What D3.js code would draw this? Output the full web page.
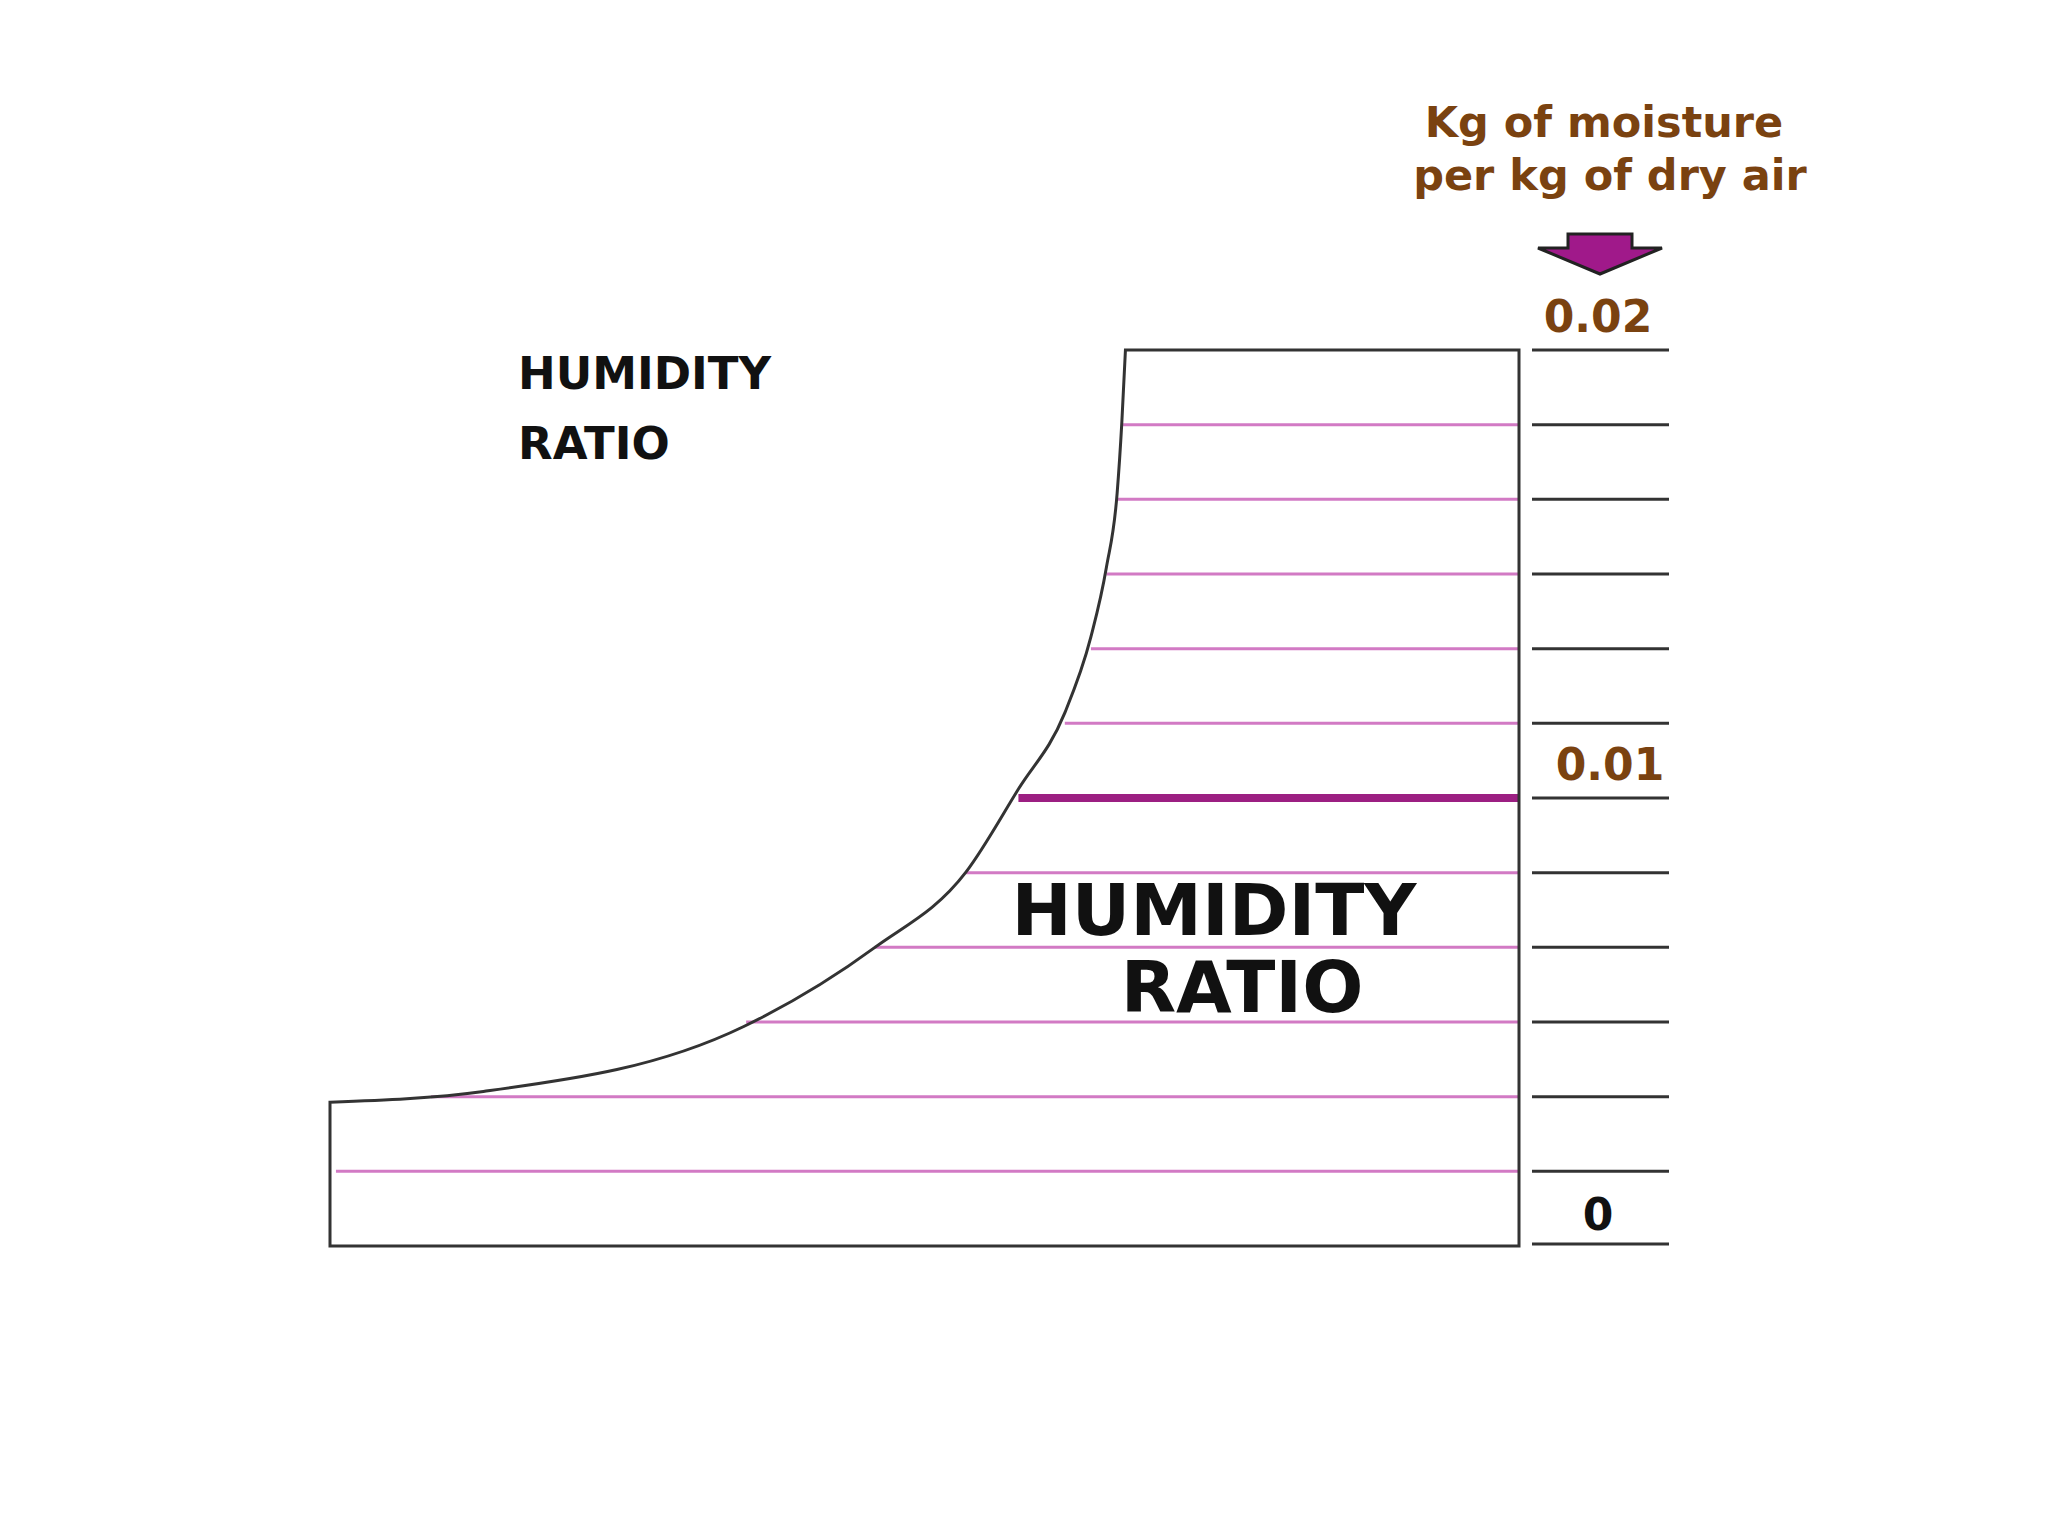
<!DOCTYPE html>
<html><head><meta charset="utf-8">
<script src="https://cdn.jsdelivr.net/npm/d3@7"></script>
<style>body{margin:0;background:#fff}</style></head>
<body><svg id="c" width="2048" height="1536"></svg>
<script>
// humidity levels (kg/kg) and where each level meets the saturation curve (0-100 along dry-bulb)
const levels = [0, 0.001667, 0.003333, 0.005, 0.006667, 0.008333, 0.01, 0.011667, 0.013333, 0.015, 0.016667, 0.018333, 0.02];
const lineStart = [0, 0.5, 8.5, 35, 45.8, 53.5, 57.9, 61.8, 64, 65.3, 66.2, 66.7, 66.9];
const curveX = [0, 12.9, 34.8, 45.8, 53.5, 57.9, 61.8, 64, 65.3, 66.2, 66.6, 66.9];
const curveW = [0.00321, 0.00345, 0.0049, 0.00666, 0.00835, 0.0102, 0.0119, 0.0136, 0.01515, 0.0168, 0.0184, 0.02];
const tickLabels = [{v: 0.02, t: "0.02"}, {v: 0.01, t: "0.01"}, {v: 0, t: "0"}];

const svg = d3.select("#c");
const x = d3.scaleLinear().domain([0, 100]).range([330, 1519]);
const y = d3.scaleLinear().domain([0, 0.02]).range([1246, 350]);
const brown = "#7a4210";
const f = "DejaVu Sans, Verdana, sans-serif";

// pink humidity lines
levels.forEach((v, i) => {
  if (i === 0 || i === levels.length - 1) return;
  const main = v === 0.01;
  svg.append("line")
    .attr("x1", x(lineStart[i])).attr("x2", x(100))
    .attr("y1", y(v)).attr("y2", y(v))
    .attr("stroke", main ? "#9c1f82" : "#d27ac4")
    .attr("stroke-width", main ? 8 : 3);
});

// outline: saturation curve + box
const pts = curveX.map((c, i) => [x(c), y(curveW[i])]);
const curve = d3.line().curve(d3.curveMonotoneX)(pts);
svg.append("path")
  .attr("d", `M${x(0)},${y(0)}L` + curve.slice(1) +
    `L${x(100)},${y(0.02)}L${x(100)},${y(0)}Z`)
  .attr("fill", "none").attr("stroke", "#333").attr("stroke-width", 3);

// right scale ticks
svg.selectAll(".tk").data(levels).enter().append("line")
  .attr("x1", 1532).attr("x2", 1669)
  .attr("y1", d => y(d) + (d === 0 ? -2 : 0)).attr("y2", d => y(d) + (d === 0 ? -2 : 0))
  .attr("stroke", "#333").attr("stroke-width", 3);

svg.selectAll(".tl").data(tickLabels).enter().append("text")
  .attr("x", d => d.v === 0.01 ? 1610 : 1598)
  .attr("y", d => y(d.v) - (d.v === 0 ? 16 : 18))
  .attr("text-anchor", "middle")
  .attr("font-family", f).attr("font-weight", "bold")
  .attr("font-size", 44)
  .attr("fill", d => d.v === 0 ? "#111" : brown)
  .text(d => d.t);

// block arrow
svg.append("path")
  .attr("d", "M1568,234L1632,234L1632,248L1662,248L1600,274L1538,248L1568,248Z")
  .attr("fill", "#a0198a").attr("stroke", "#222").attr("stroke-width", 3);

svg.append("text").attr("x", 1604).attr("y", 137).attr("text-anchor", "middle")
  .attr("font-family", f).attr("font-weight", "bold").attr("font-size", 43).attr("fill", brown)
  .text("Kg of moisture");
svg.append("text").attr("x", 1610).attr("y", 190).attr("text-anchor", "middle")
  .attr("font-family", f).attr("font-weight", "bold").attr("font-size", 43).attr("fill", brown)
  .text("per kg of dry air");

svg.append("text").attr("x", 518).attr("y", 389)
  .attr("font-family", f).attr("font-weight", "bold").attr("font-size", 45).attr("fill", "#111").text("HUMIDITY");
svg.append("text").attr("x", 518).attr("y", 459)
  .attr("font-family", f).attr("font-weight", "bold").attr("font-size", 45).attr("fill", "#111").text("RATIO");

svg.append("text").attr("x", 1214).attr("y", 935).attr("text-anchor", "middle")
  .attr("font-family", f).attr("font-weight", "bold").attr("font-size", 72).attr("fill", "#111").text("HUMIDITY");
svg.append("text").attr("x", 1242).attr("y", 1012).attr("text-anchor", "middle")
  .attr("font-family", f).attr("font-weight", "bold").attr("font-size", 72).attr("fill", "#111").text("RATIO");
</script></body></html>
